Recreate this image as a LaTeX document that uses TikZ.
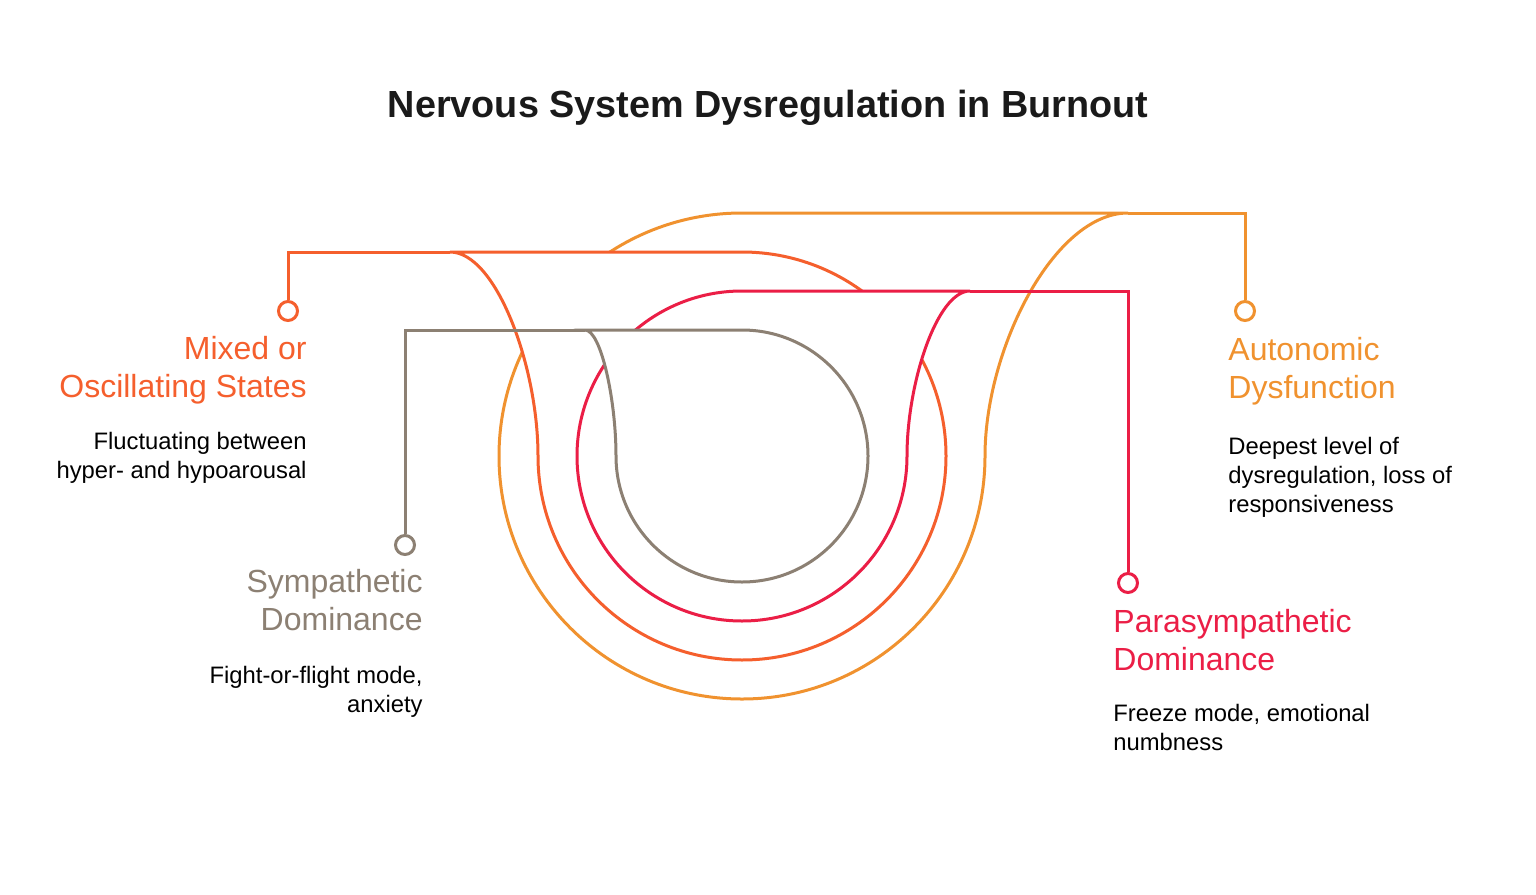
\documentclass[tikz,border=0pt]{standalone}
\usepackage{fontspec}
\setmainfont{Liberation Sans}
\usetikzlibrary{positioning}
\definecolor{autoorange}{HTML}{F0922F}
\definecolor{mixedorange}{HTML}{F55F2D}
\definecolor{parared}{HTML}{EB1E46}
\definecolor{sympgray}{HTML}{8C8073}
\definecolor{titleblack}{HTML}{1A1A1A}
\tikzstyle{loop}=[
  line width=1.5pt,
  fill=white,
]
\tikzstyle{link}=[
  line width=1.5pt,
]
\tikzstyle{marker}=[
  circle,
  fill=white,
  inner sep=0pt,
  line width=1.5pt,
  minimum size=9.5pt,
]
\tikzstyle{heading}=[
  font={\fontsize{16pt}{19pt}\selectfont},
  inner sep=0pt,
]
\tikzstyle{caption}=[
  font={\fontsize{11.9pt}{14.5pt}\selectfont},
  inner sep=0pt,
  text=black,
]
\begin{document}
\begin{tikzpicture}[x=0.5pt, y=-0.5pt]
  \useasboundingbox (0,0) rectangle (1536,894);
  \node (title) [anchor=base, text=titleblack,
    font={\bfseries\fontsize{18.9pt}{22pt}\selectfont}] at (768,117)
    {Nervous System Dysregulation in Burnout};
  %% where each loop hands over to its connector
  \coordinate (autoEnd) at (1128,213);
  \coordinate (mixedEnd) at (450,252);
  \coordinate (paraEnd) at (970,291);
  \coordinate (sympEnd) at (585,330);
  %% loops, outermost first
  \draw [loop, draw=autoorange] (autoEnd) -- (742,213)
    arc [start angle=270, end angle=0, radius=243]
    .. controls (985,349) and (1054,213) .. (autoEnd) -- cycle;
  \node (autoMark) [marker, draw=autoorange] at (1245,311) {};
  \draw [link, draw=autoorange] (autoEnd) -| (autoMark);
  \draw [loop, draw=mixedorange] (mixedEnd) -- (742,252)
    arc [start angle=-90, end angle=180, radius=204]
    .. controls (538,366) and (496,252) .. (mixedEnd) -- cycle;
  \node (mixedMark) [marker, draw=mixedorange] at (288,311) {};
  \draw [link, draw=mixedorange] (mixedEnd) -| (mixedMark);
  \draw [loop, draw=parared] (paraEnd) -- (742,291)
    arc [start angle=270, end angle=0, radius=165]
    .. controls (907,383) and (937,291) .. (paraEnd) -- cycle;
  \node (paraMark) [marker, draw=parared] at (1128,583) {};
  \draw [link, draw=parared] (paraEnd) -| (paraMark);
  \draw [loop, draw=sympgray] (sympEnd) -- (742,330)
    arc [start angle=-90, end angle=180, radius=126]
    .. controls (616,400) and (601,330) .. (sympEnd) -- cycle;
  \node (sympMark) [marker, draw=sympgray] at (405,545) {};
  \draw [link, draw=sympgray] (sympEnd) -| (sympMark);
  %% labels (anchored at the baseline of their last line)
  \node (mixedHead) [heading, text=mixedorange, anchor=base east, align=right]
    at (307,397) {Mixed or\\Oscillating States};
  \node (mixedText) [caption, anchor=base east, align=right]
    at (307,478) {Fluctuating between\\hyper- and hypoarousal};
  \node (sympHead) [heading, text=sympgray, anchor=base east, align=right]
    at (423,630) {Sympathetic\\Dominance};
  \node (sympText) [caption, anchor=base east, align=right]
    at (423,712) {Fight-or-flight mode,\\anxiety};
  \node (autoHead) [heading, text=autoorange, anchor=base west, align=left]
    at (1228,398) {Autonomic\\Dysfunction};
  \node (autoText) [caption, anchor=base west, align=left]
    at (1228,512) {Deepest level of\\dysregulation, loss of\\responsiveness};
  \node (paraHead) [heading, text=parared, anchor=base west, align=left]
    at (1113,670) {Parasympathetic\\Dominance};
  \node (paraText) [caption, anchor=base west, align=left]
    at (1113,750) {Freeze mode, emotional\\numbness};
\end{tikzpicture}
\end{document}
